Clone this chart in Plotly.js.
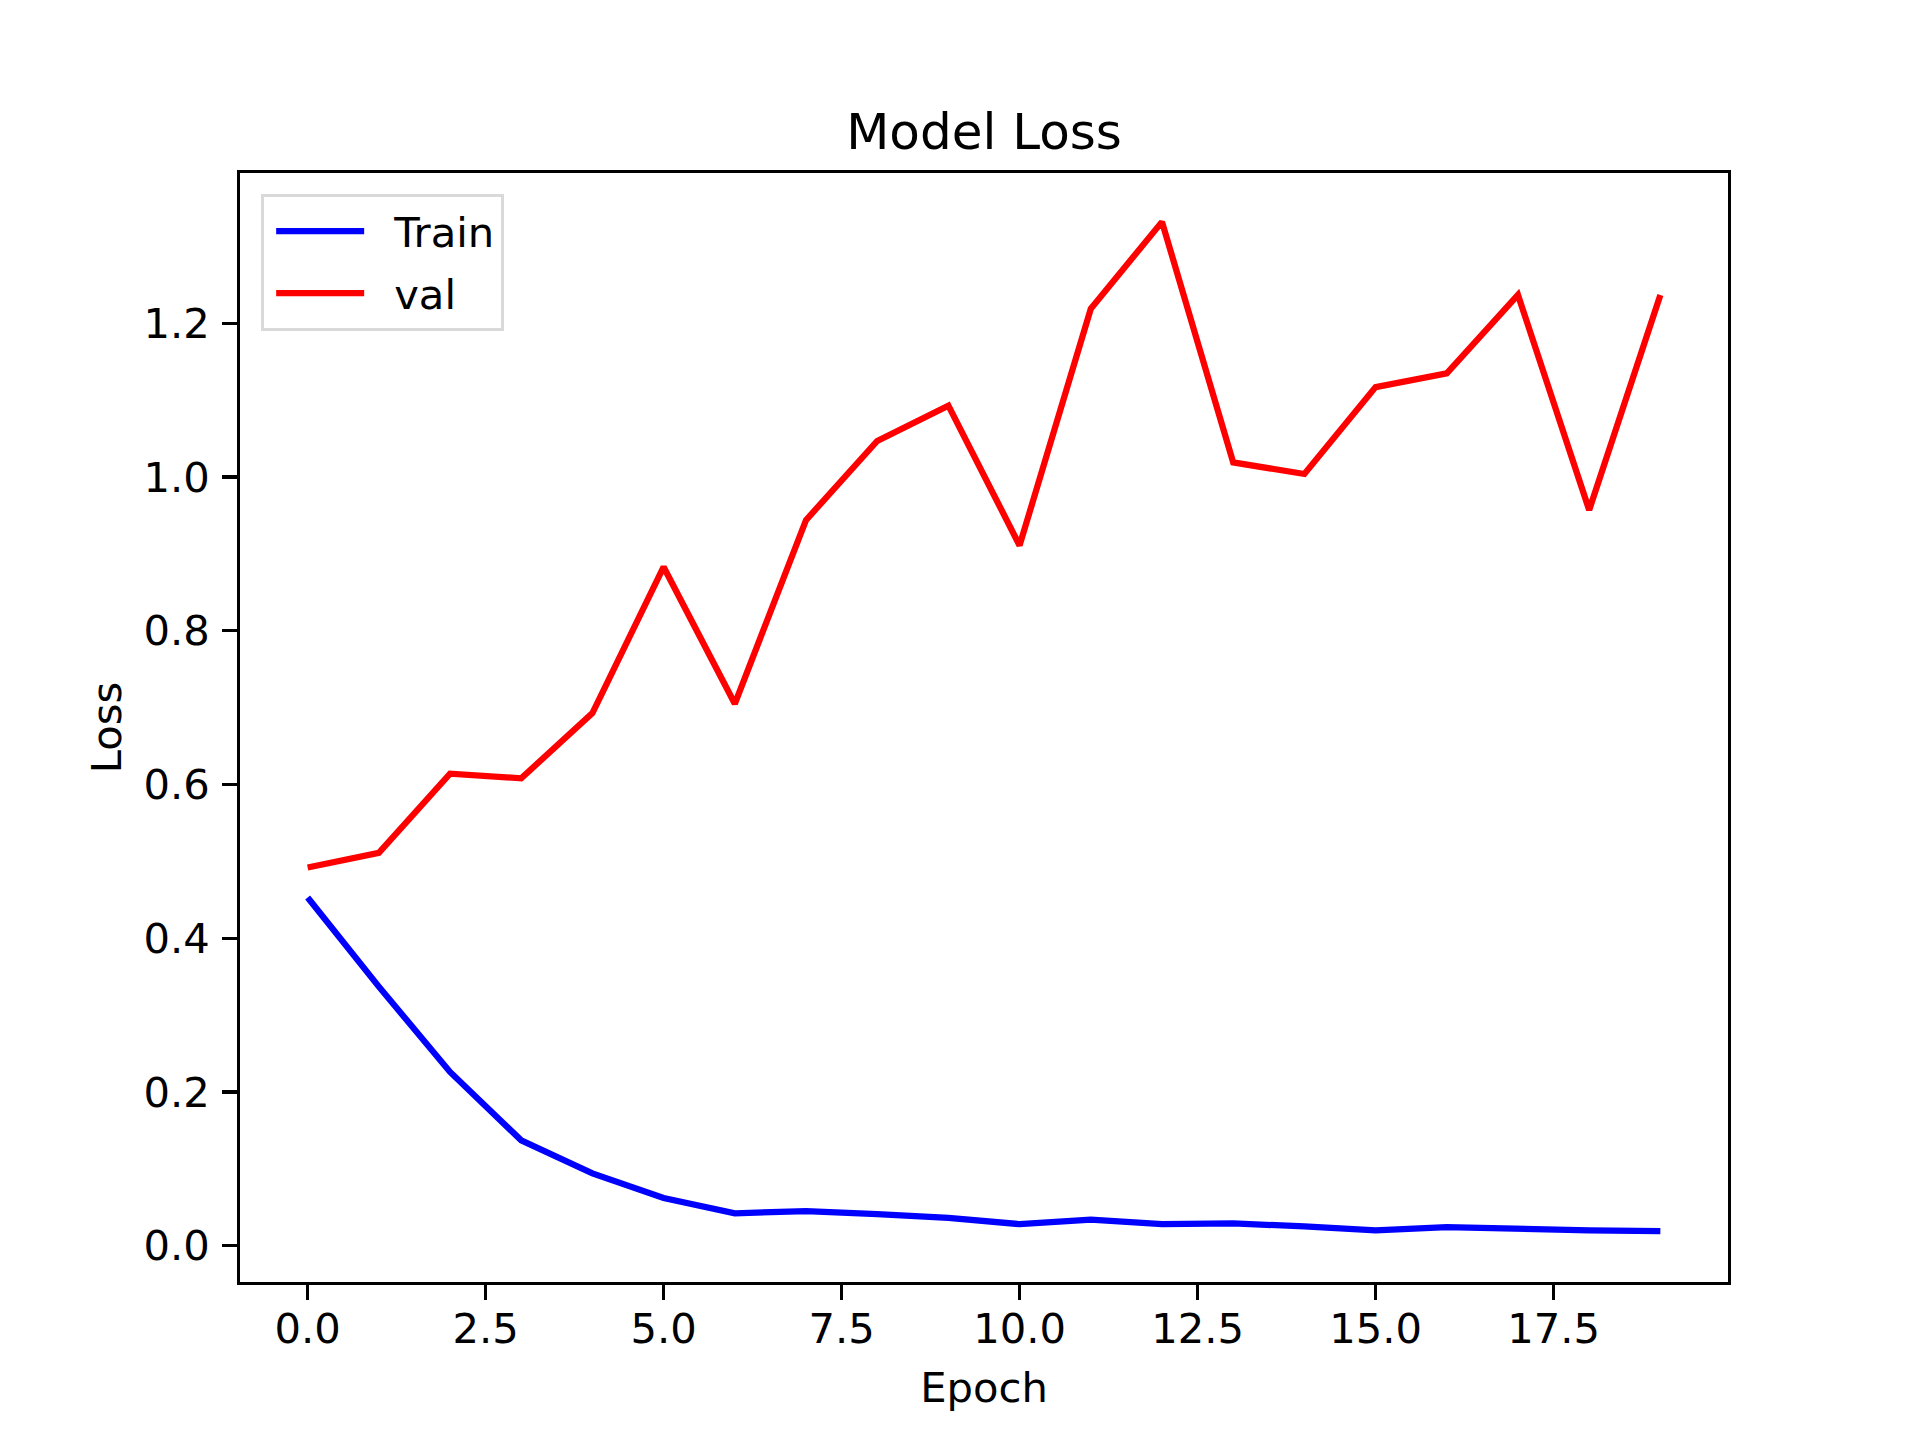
<!DOCTYPE html>
<html>
<head>
<meta charset="utf-8">
<script src="https://cdn.plot.ly/plotly-3.0.1.min.js"></script>
<style>html,body{margin:0;padding:0;background:#fff;}#chart{width:1920px;height:1440px;}</style>
</head>
<body>
<div id="chart"></div>
<script>
const epochs = [0,1,2,3,4,5,6,7,8,9,10,11,12,13,14,15,16,17,18,19];
const trainLoss = [0.453,0.337,0.226,0.137,0.094,0.062,0.042,0.045,0.041,0.036,0.028,0.034,0.028,0.029,0.025,0.020,0.024,0.021,0.020,0.019];
const valLoss = [0.492,0.511,0.614,0.608,0.693,0.883,0.705,0.944,1.047,1.093,0.911,1.219,1.332,1.019,1.004,1.117,1.135,1.237,0.957,1.237];
const xTickVals = [0,2.5,5,7.5,10,12.5,15,17.5];
const xTickText = ["0.0","2.5","5.0","7.5","10.0","12.5","15.0","17.5"];
const yTickVals = [0,0.2,0.4,0.6,0.8,1.0,1.2];
const yTickText = ["0.0","0.2","0.4","0.6","0.8","1.0","1.2"];

const FONT = "DejaVu Sans, sans-serif";
const lw = 6.25;

const traces = [
  {x: epochs, y: trainLoss, type: 'scatter', mode: 'lines', name: 'Train',
   line: {color: '#0000ff', width: lw}, legendgroup: 'a'},
  {x: epochs, y: valLoss, type: 'scatter', mode: 'lines', name: 'val',
   line: {color: '#ff0000', width: lw}, legendgroup: 'b'}
];

const axisCommon = {
  showgrid: false, zeroline: false,
  showline: true, mirror: true, linecolor: '#000', linewidth: 3.33,
  ticks: 'outside', ticklen: 14.6, tickwidth: 3.33, tickcolor: '#000',
  tickfont: {family: FONT, size: 41.7, color: '#000'},
  tickmode: 'array'
};

const layout = {
  width: 1920, height: 1440,
  paper_bgcolor: '#fff', plot_bgcolor: '#fff',
  margin: {l: 240, r: 192, t: 173, b: 158, pad: 0},
  font: {family: FONT, color: '#000'},
  title: {text: 'Model Loss', font: {family: FONT, size: 50, color: '#000'},
          x: 0.5, xref: 'paper', y: 1, yref: 'paper', yanchor: 'bottom', pad: {b: 24}},
  xaxis: Object.assign({}, axisCommon, {
    range: [-0.95, 19.95], tickvals: xTickVals, ticktext: xTickText,
    ticklabelstandoff: -7,
    title: {text: 'Epoch', font: {family: FONT, size: 41.7, color: '#000'}, standoff: 22}
  }),
  yaxis: Object.assign({}, axisCommon, {
    range: [-0.0473, 1.3956], tickvals: yTickVals, ticktext: yTickText,
    ticklabelstandoff: 4,
    title: {text: 'Loss', font: {family: FONT, size: 41.7, color: '#000'}, standoff: 9}
  }),
  showlegend: true,
  legend: {
    x: 0.014, y: 0.981, xanchor: 'left', yanchor: 'top',
    bgcolor: 'rgba(255,255,255,0.8)', bordercolor: '#d9d9d9', borderwidth: 3.33,
    font: {family: FONT, size: 41.7, color: '#000'},
    tracegroupgap: 5, itemwidth: 120
  }
};

Plotly.newPlot('chart', traces, layout, {displayModeBar: false, staticPlot: true}).then(function (gd) {
  // lengthen legend line samples to matplotlib's 2em handle length
  gd.querySelectorAll('.legend .traces path.js-line').forEach(function (p) {
    p.setAttribute('d', 'M12,0h88');
  });
});
</script>
</body>
</html>
